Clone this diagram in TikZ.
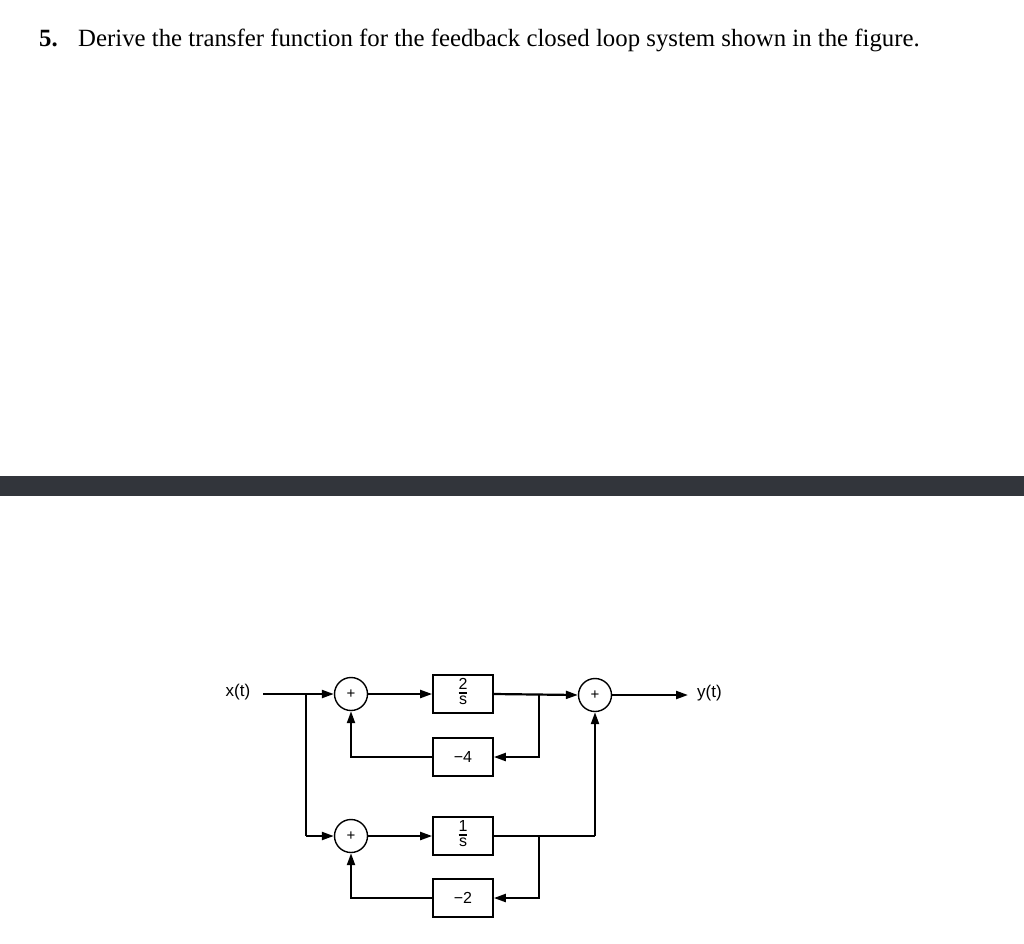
\documentclass[tikz,border=0pt]{standalone}
\usepackage{fontspec}
\setmainfont{Liberation Serif}
\newfontfamily\diag{Liberation Sans}
\usetikzlibrary{arrows.meta}
\definecolor{barcol}{HTML}{32353B}
\newcommand{\blkfrac}[2]{\begin{tabular}{@{}c@{}}\rule[-2pt]{0pt}{11pt}#1\\[-2pt]\hline\rule{0pt}{10pt}#2\end{tabular}}
\tikzset{
  blk/.style={draw, line width=1.7pt, minimum width=60pt, minimum height=38pt, inner sep=0pt, font=\diag\fontsize{16}{16}\selectfont},
  sumnode/.style={draw, circle, line width=1.4pt, minimum size=33pt, inner sep=0pt, font=\diag\fontsize{15}{15}\selectfont},
  sig/.style={line width=2.2pt, -{Triangle[length=12pt,width=8pt]}},
  wire/.style={line width=2.2pt},
  lbl/.style={font=\diag\fontsize{17}{17}\selectfont, inner sep=0pt},
}
\begin{document}
\begin{tikzpicture}[x=1pt,y=-1pt]
\useasboundingbox (0,0) rectangle (1024,943);
\node[anchor=base west, inner sep=0pt, font=\fontsize{24.8}{24.8}\selectfont] (num) at (39,46) {\textbf{5.}};
\node[anchor=base west, inner sep=0pt, font=\fontsize{24.8}{24.8}\selectfont] (title) at (78,46) {Derive the transfer function for the feedback closed loop system shown in the figure.};
\fill[barcol] (0,476) rectangle (1024,496);

\node[lbl] (x) at (238,692) {x(t)};
\node[lbl, anchor=west] (y) at (697,693) {y(t)};
\node[sumnode] (s1) at (351,694) {+};
\node[sumnode] (s2) at (595,695) {+};
\node[sumnode] (s3) at (351,836) {+};
\node[blk] (g1) at (463,694) {\setlength{\arrayrulewidth}{1.2pt}\blkfrac{2}{s}};
\node[blk] (h1) at (463,757) {−4};
\node[blk] (g2) at (463,836) {\setlength{\arrayrulewidth}{1.2pt}\blkfrac{1}{s}};
\node[blk] (h2) at (463,898) {−2};

\coordinate (xin) at (263,694);
\coordinate (yout) at (688,695);
\coordinate (j0) at (306,694);
\coordinate (j0b) at (306,836);
\coordinate (j1) at (539,694);
\coordinate (j2) at (539,836);
\coordinate (j3) at (595,836);

\draw[sig] (xin) -- (s1.west);
\draw[wire] (j0) -- (j0b);
\draw[sig] (j0b) -- (s3.west);
\draw[sig] (s1.east) -- (g1.west);
\draw[sig] (g1.east) -- (s2.west);
\draw[sig] (j1) |- (h1.east);
\draw[sig] (h1.west) -| (s1.south);
\draw[sig] (s2.east) -- (yout);
\draw[sig] (s3.east) -- (g2.west);
\draw[wire] (g2.east) -- (j3);
\draw[sig] (j3) -- (s2.south);
\draw[sig] (j2) |- (h2.east);
\draw[sig] (h2.west) -| (s3.south);
\end{tikzpicture}
\end{document}
